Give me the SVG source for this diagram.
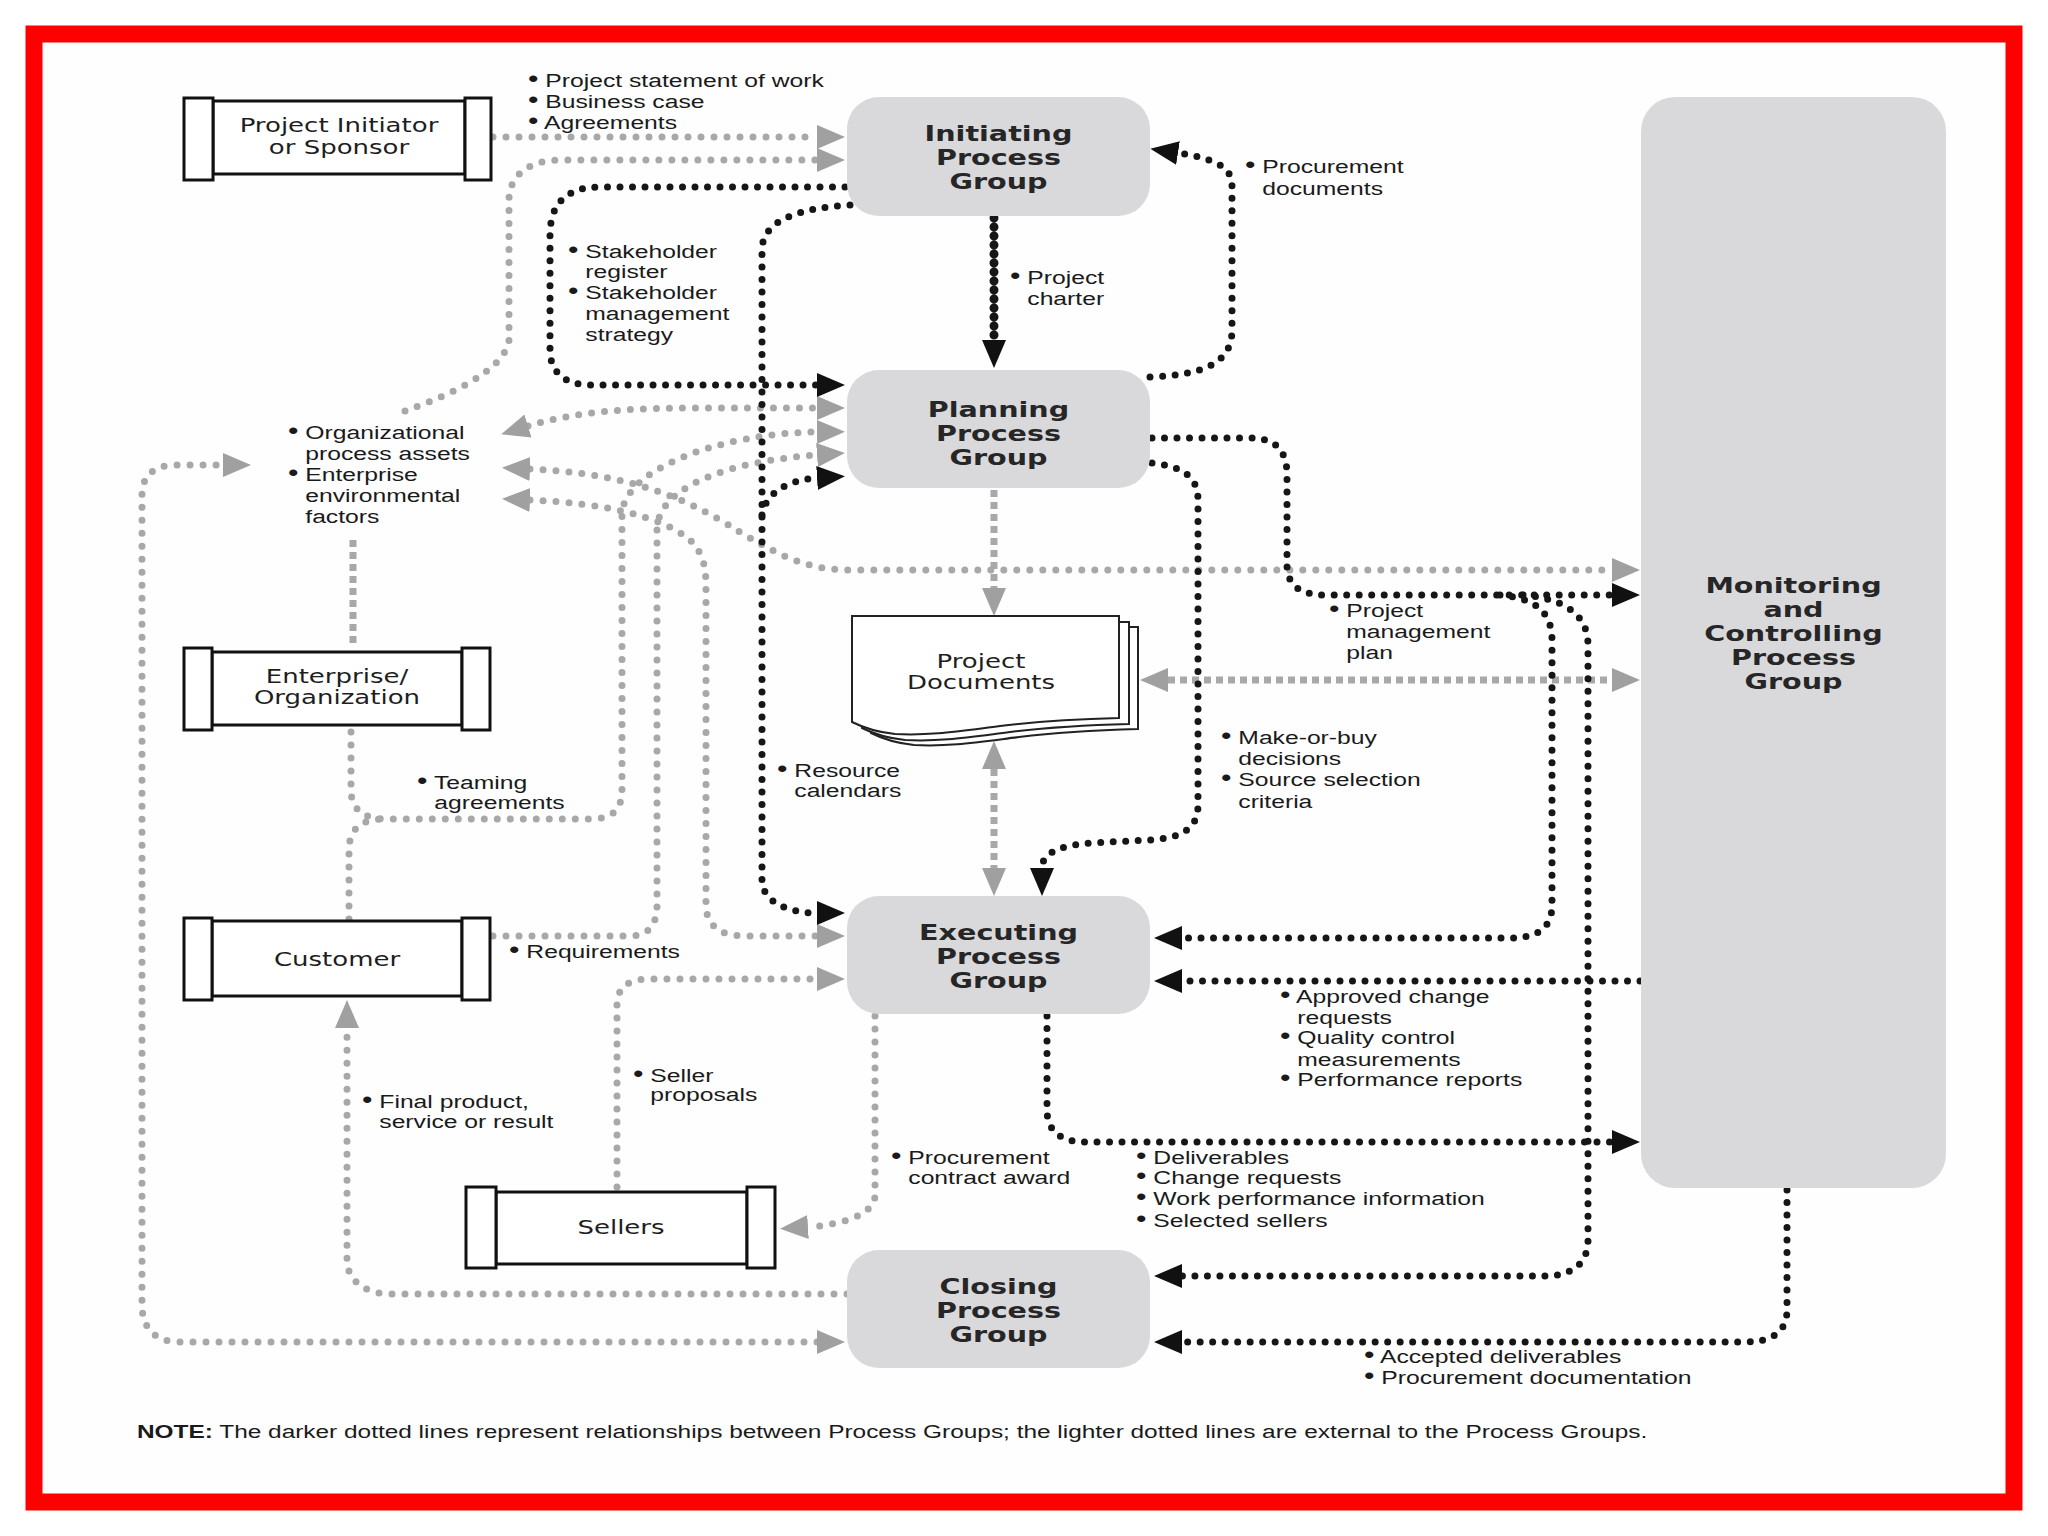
<svg xmlns="http://www.w3.org/2000/svg" width="2048" height="1536" viewBox="0 0 2048 1536">
<defs>
<style>
.lbl{font-family:"Liberation Sans",Arial,sans-serif;font-size:19px;fill:#1a1a1a}
.box{font-family:"DejaVu Sans",Verdana,sans-serif;font-size:20px;fill:#1e1e1e;text-anchor:middle}
.grp{font-family:"DejaVu Sans",Verdana,sans-serif;font-weight:bold;font-size:22px;fill:#262626;text-anchor:middle}
.lg{fill:none;stroke:#a8a8a8;stroke-width:7;stroke-linecap:round;stroke-dasharray:0 13}
.lgd{fill:none;stroke:#a8a8a8;stroke-width:7;stroke-dasharray:7 5}
.dk{fill:none;stroke:#161616;stroke-width:7;stroke-linecap:round;stroke-dasharray:0 12.5}
.dkt{fill:none;stroke:#161616;stroke-width:9;stroke-linecap:round;stroke-dasharray:0 9}
.pg{fill:#d9d9dc}
.ent{fill:#fff;stroke:#111;stroke-width:3}
.pag{fill:#fff;stroke:#222;stroke-width:2}
.b{font-size:23px}
</style>
<marker id="ag" markerUnits="userSpaceOnUse" markerWidth="30" markerHeight="26" refX="0" refY="12" orient="auto-start-reverse" viewBox="0 0 30 24"><path d="M0,0 L28,12 L0,24 Z" fill="#a0a0a0"/></marker>
<marker id="ab" markerUnits="userSpaceOnUse" markerWidth="30" markerHeight="26" refX="0" refY="12" orient="auto-start-reverse" viewBox="0 0 30 24"><path d="M0,0 L28,12 L0,24 Z" fill="#111"/></marker>
</defs>
<rect x="0" y="0" width="2048" height="1536" fill="#fff"/>
<rect x="34" y="34" width="1980" height="1468" fill="#fefefe" stroke="#ff0000" stroke-width="17"/>

<g id="connectors">
<!-- gray (external) -->
<path class="lg" d="M493,137 H817" marker-end="url(#ag)"/>
<path class="lg" d="M405,411 C450,395 505,370 509,340 V200 C509,175 530,160 560,160 H817" marker-end="url(#ag)"/>
<path class="lg" d="M528,426 C580,410 640,408 700,408 H817" marker-start="url(#ag)" marker-end="url(#ag)"/>
<path class="lg" d="M530,469 C600,472 660,485 720,520 C770,550 800,570 850,570 H1612" marker-start="url(#ag)" marker-end="url(#ag)"/>
<path class="lg" d="M530,500 C600,503 660,515 690,540 C705,555 706,570 706,590 V905 C706,925 720,936 745,936 H817" marker-start="url(#ag)" marker-end="url(#ag)"/>
<path class="lg" d="M817,1342 H180 C155,1342 142,1328 142,1305 V495 C142,475 155,465 175,465 H223" marker-start="url(#ag)" marker-end="url(#ag)"/>
<path class="lgd" d="M353,540 V648"/>
<path class="lg" d="M351,732 V790 C351,810 365,819 385,819 H590 C612,819 622,810 622,790 V515 C622,470 720,433 817,432" marker-end="url(#ag)"/>
<path class="lg" d="M349,919 V850 C349,830 360,819 385,819"/>
<path class="lg" d="M493,936 H630 C648,936 657,925 657,905 V530 C657,490 720,462 817,455" marker-end="url(#ag)"/>
<path class="lgd" d="M994,490 V588" marker-end="url(#ag)"/>
<path class="lgd" d="M994,769 V868" marker-start="url(#ag)" marker-end="url(#ag)"/>
<path class="lgd" d="M1168,680 H1612" marker-start="url(#ag)" marker-end="url(#ag)"/>
<path class="lg" d="M847,1294 H390 C365,1294 347,1280 347,1260 V1028" marker-end="url(#ag)"/>
<path class="lg" d="M617,1187 V1005 C617,988 628,979 648,979 H817" marker-end="url(#ag)"/>
<path class="lg" d="M875,1016 V1195 C875,1215 840,1225 808,1227" marker-end="url(#ag)"/>
<!-- black (between process groups) -->
<path class="dk" d="M845,187 H600 C565,187 550,205 550,235 V350 C550,372 565,385 590,385 H817" marker-end="url(#ab)"/>
<path class="dk" d="M850,205 C800,208 762,220 762,250 V880 C762,900 785,913 817,913" marker-end="url(#ab)"/>
<path class="dk" d="M762,515 C765,495 785,480 817,478" marker-end="url(#ab)"/>
<path class="dkt" d="M994,218 V340" marker-end="url(#ab)"/>
<path class="dk" d="M1150,377 C1200,375 1232,365 1232,330 V185 C1232,165 1210,158 1178,153" marker-end="url(#ab)"/>
<path class="dk" d="M1152,438 H1250 C1275,438 1287,450 1287,475 V565 C1287,585 1300,595 1325,595 H1612" marker-end="url(#ab)"/>
<path class="dk" d="M1500,595 C1535,598 1552,612 1552,640 V905 C1552,930 1535,938 1510,938 H1182" marker-end="url(#ab)"/>
<path class="dk" d="M1523,595 C1560,598 1588,612 1588,645 V1240 C1588,1265 1570,1276 1545,1276 H1182" marker-end="url(#ab)"/>
<path class="dk" d="M1152,463 C1180,466 1198,475 1198,500 V805 C1198,830 1180,838 1150,840 L1090,843 C1055,846 1042,855 1042,868" marker-end="url(#ab)"/>
<path class="dk" d="M1640,981 H1182" marker-end="url(#ab)"/>
<path class="dk" d="M1047,1016 V1110 C1047,1132 1062,1142 1085,1142 H1612" marker-end="url(#ab)"/>
<path class="dk" d="M1787,1190 V1310 C1787,1332 1772,1342 1745,1342 H1182" marker-end="url(#ab)"/>
</g>

<g id="sponsor">
<rect class="ent" x="213" y="101" width="252" height="73"/>
<rect class="ent" x="184" y="98" width="29" height="82"/>
<rect class="ent" x="465" y="98" width="26" height="82"/>
<text class="box" transform="translate(339,132) scale(1.3,1)"><tspan x="0">Project Initiator</tspan><tspan x="0" dy="22">or Sponsor</tspan></text>
</g>
<g id="enterprise">
<rect class="ent" x="212" y="652" width="250" height="73"/>
<rect class="ent" x="184" y="648" width="28" height="82"/>
<rect class="ent" x="462" y="648" width="28" height="82"/>
<text class="box" transform="translate(337,683) scale(1.3,1)"><tspan x="0">Enterprise/</tspan><tspan x="0" dy="21">Organization</tspan></text>
</g>
<g id="customer">
<rect class="ent" x="212" y="921" width="250" height="75"/>
<rect class="ent" x="184" y="918" width="28" height="82"/>
<rect class="ent" x="462" y="918" width="28" height="82"/>
<text class="box" transform="translate(337,966) scale(1.3,1)">Customer</text>
</g>
<g id="sellers">
<rect class="ent" x="496" y="1192" width="251" height="72"/>
<rect class="ent" x="466" y="1187" width="30" height="81"/>
<rect class="ent" x="747" y="1187" width="28" height="81"/>
<text class="box" transform="translate(621,1234) scale(1.3,1)">Sellers</text>
</g>

<g id="initiating">
<rect class="pg" x="847" y="97" width="303" height="119" rx="32"/>
<text class="grp" transform="translate(998.5,141) scale(1.3,1)"><tspan x="0">Initiating</tspan><tspan x="0" dy="24">Process</tspan><tspan x="0" dy="24">Group</tspan></text>
</g>
<g id="planning">
<rect class="pg" x="847" y="370" width="303" height="118" rx="32"/>
<text class="grp" transform="translate(998.5,417) scale(1.3,1)"><tspan x="0">Planning</tspan><tspan x="0" dy="24">Process</tspan><tspan x="0" dy="24">Group</tspan></text>
</g>
<g id="executing">
<rect class="pg" x="847" y="896" width="303" height="118" rx="32"/>
<text class="grp" transform="translate(998.5,940) scale(1.3,1)"><tspan x="0">Executing</tspan><tspan x="0" dy="24">Process</tspan><tspan x="0" dy="24">Group</tspan></text>
</g>
<g id="closing">
<rect class="pg" x="847" y="1250" width="303" height="118" rx="32"/>
<text class="grp" transform="translate(998.5,1294) scale(1.3,1)"><tspan x="0">Closing</tspan><tspan x="0" dy="24">Process</tspan><tspan x="0" dy="24">Group</tspan></text>
</g>
<g id="monitoring">
<rect class="pg" x="1641" y="97" width="305" height="1091" rx="34"/>
<text class="grp" transform="translate(1793.5,593) scale(1.3,1)"><tspan x="0">Monitoring</tspan><tspan x="0" dy="24">and</tspan><tspan x="0" dy="24">Controlling</tspan><tspan x="0" dy="24">Process</tspan><tspan x="0" dy="24">Group</tspan></text>
</g>
<g id="project-documents">
<path class="pag" transform="translate(19,11)" d="M852,616 H1119 V718 C1080,719 1040,721 1000,726 C960,731 930,736 895,734 C875,732 862,727 852,722 Z"/>
<path class="pag" transform="translate(10,6)" d="M852,616 H1119 V718 C1080,719 1040,721 1000,726 C960,731 930,736 895,734 C875,732 862,727 852,722 Z"/>
<path class="pag" d="M852,616 H1119 V718 C1080,719 1040,721 1000,726 C960,731 930,736 895,734 C875,732 862,727 852,722 Z"/>
<text class="box" transform="translate(981,668) scale(1.3,1)"><tspan x="0">Project</tspan><tspan x="0" dy="21">Documents</tspan></text>
</g>

<g id="labels">
<text class="lbl" transform="translate(528,87) scale(1.3,1)"><tspan x="0"><tspan class="b">•</tspan> Project statement of work</tspan><tspan x="0" dy="21"><tspan class="b">•</tspan> Business case</tspan><tspan x="0" dy="21"><tspan class="b">•</tspan> Agreements</tspan></text>
<text class="lbl" transform="translate(568,258) scale(1.3,1)"><tspan x="0"><tspan class="b">•</tspan> Stakeholder</tspan><tspan x="13.3" dy="20.5">register</tspan><tspan x="0" dy="20.5"><tspan class="b">•</tspan> Stakeholder</tspan><tspan x="13.3" dy="21">management</tspan><tspan x="13.3" dy="21">strategy</tspan></text>
<text class="lbl" transform="translate(1010,284) scale(1.3,1)"><tspan x="0"><tspan class="b">•</tspan> Project</tspan><tspan x="13.3" dy="21">charter</tspan></text>
<text class="lbl" transform="translate(1245,173) scale(1.3,1)"><tspan x="0"><tspan class="b">•</tspan> Procurement</tspan><tspan x="13.3" dy="22">documents</tspan></text>
<text class="lbl" transform="translate(288,439) scale(1.3,1)"><tspan x="0"><tspan class="b">•</tspan> Organizational</tspan><tspan x="13.3" dy="21">process assets</tspan><tspan x="0" dy="21"><tspan class="b">•</tspan> Enterprise</tspan><tspan x="13.3" dy="21">environmental</tspan><tspan x="13.3" dy="21">factors</tspan></text>
<text class="lbl" transform="translate(1329,617) scale(1.3,1)"><tspan x="0"><tspan class="b">•</tspan> Project</tspan><tspan x="13.3" dy="21">management</tspan><tspan x="13.3" dy="21">plan</tspan></text>
<text class="lbl" transform="translate(1221,744) scale(1.3,1)"><tspan x="0"><tspan class="b">•</tspan> Make-or-buy</tspan><tspan x="13.3" dy="21">decisions</tspan><tspan x="0" dy="21"><tspan class="b">•</tspan> Source selection</tspan><tspan x="13.3" dy="22">criteria</tspan></text>
<text class="lbl" transform="translate(777,777) scale(1.3,1)"><tspan x="0"><tspan class="b">•</tspan> Resource</tspan><tspan x="13.3" dy="20">calendars</tspan></text>
<text class="lbl" transform="translate(417,789) scale(1.3,1)"><tspan x="0"><tspan class="b">•</tspan> Teaming</tspan><tspan x="13.3" dy="20">agreements</tspan></text>
<text class="lbl" transform="translate(509,958) scale(1.3,1)"><tspan class="b">•</tspan> Requirements</text>
<text class="lbl" transform="translate(362,1108) scale(1.3,1)"><tspan x="0"><tspan class="b">•</tspan> Final product,</tspan><tspan x="13.3" dy="20">service or result</tspan></text>
<text class="lbl" transform="translate(633,1082) scale(1.3,1)"><tspan x="0"><tspan class="b">•</tspan> Seller</tspan><tspan x="13.3" dy="19">proposals</tspan></text>
<text class="lbl" transform="translate(891,1164) scale(1.3,1)"><tspan x="0"><tspan class="b">•</tspan> Procurement</tspan><tspan x="13.3" dy="20">contract award</tspan></text>
<text class="lbl" transform="translate(1280,1003) scale(1.3,1)"><tspan x="0"><tspan class="b">•</tspan> Approved change</tspan><tspan x="13.3" dy="21">requests</tspan><tspan x="0" dy="20"><tspan class="b">•</tspan> Quality control</tspan><tspan x="13.3" dy="22">measurements</tspan><tspan x="0" dy="20"><tspan class="b">•</tspan> Performance reports</tspan></text>
<text class="lbl" transform="translate(1136,1164) scale(1.3,1)"><tspan x="0"><tspan class="b">•</tspan> Deliverables</tspan><tspan x="0" dy="20"><tspan class="b">•</tspan> Change requests</tspan><tspan x="0" dy="21"><tspan class="b">•</tspan> Work performance information</tspan><tspan x="0" dy="22"><tspan class="b">•</tspan> Selected sellers</tspan></text>
<text class="lbl" transform="translate(1364,1363) scale(1.3,1)"><tspan x="0"><tspan class="b">•</tspan> Accepted deliverables</tspan><tspan x="0" dy="21"><tspan class="b">•</tspan> Procurement documentation</tspan></text>
<text class="lbl" transform="translate(137,1438) scale(1.285,1)"><tspan font-weight="bold">NOTE:</tspan> The darker dotted lines represent relationships between Process Groups; the lighter dotted lines are external to the Process Groups.</text>
</g>
</svg>
